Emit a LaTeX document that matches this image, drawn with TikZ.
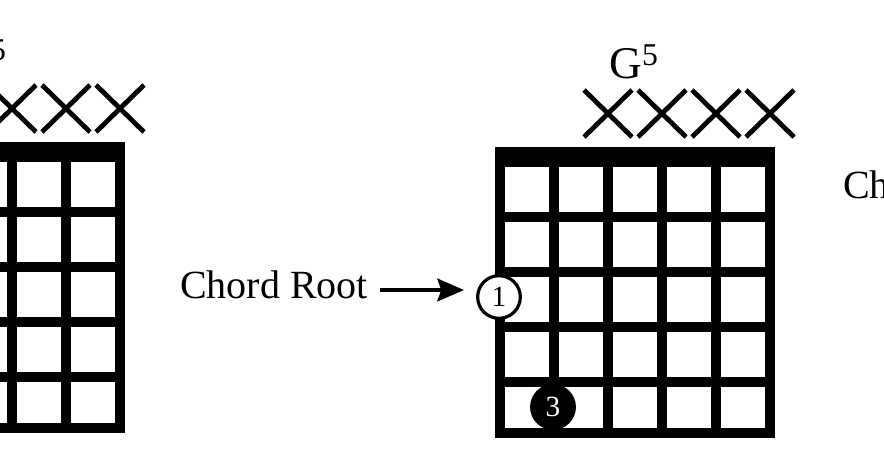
\documentclass[tikz,border=0pt]{standalone}
\usepackage{fontspec}
\setmainfont{Liberation Serif}
\usetikzlibrary{arrows.meta}
\begin{document}
\begin{tikzpicture}[x=0.75pt,y=-0.75pt,
  lbl/.style={font=\fontsize{30}{33}\selectfont, inner sep=0pt},
  ttl/.style={font=\fontsize{34}{36}\selectfont, inner sep=0pt},
  fing/.style={circle, minimum size=32pt, inner sep=0pt, line width=2.4pt, draw=black, font=\fontsize{22}{24}\selectfont},
  pics/grid/.style={code={
    \fill (-5,0) rectangle (275,20);
    \foreach \i in {0,...,5}{\draw[line width=7.5pt] (\i*54,0) -- (\i*54,291);}
    \foreach \y in {70,125,180,235,286}{\draw[line width=7.5pt] (-5,\y) -- (275,\y);}
    \foreach \i in {2,...,5}{\draw[line width=3.6pt] (\i*54-24,-57) -- (\i*54+24,-10) (\i*54-24,-10) -- (\i*54+24,-57);}
  }}]
\useasboundingbox (0,0) rectangle (884,464);
\clip (0,0) rectangle (884,464);
\pic at (-150,142) {grid};
\node[ttl, anchor=base east] (gl) at (7,73) {G\textsuperscript{5}};
\pic at (500,147) {grid};
\node[ttl, anchor=base] (g) at (634,78) {G\textsuperscript{5}};
\node[fing, fill=white] (r1) at (499,297) {1};
\node[fing, fill=black, text=white] (r3) at (553,407) {3};
\node[lbl, anchor=base west] (cr) at (180,298) {Chord Root};
\coordinate (tip) at (464,290);
\draw[line width=3pt, -{Stealth[length=20pt,width=17pt,inset=3pt]}, shorten <=9pt] (cr.east |- tip) -- (tip);
\node[lbl, anchor=base west] (cr2) at (843,198) {Chord Root};
\end{tikzpicture}
\end{document}
